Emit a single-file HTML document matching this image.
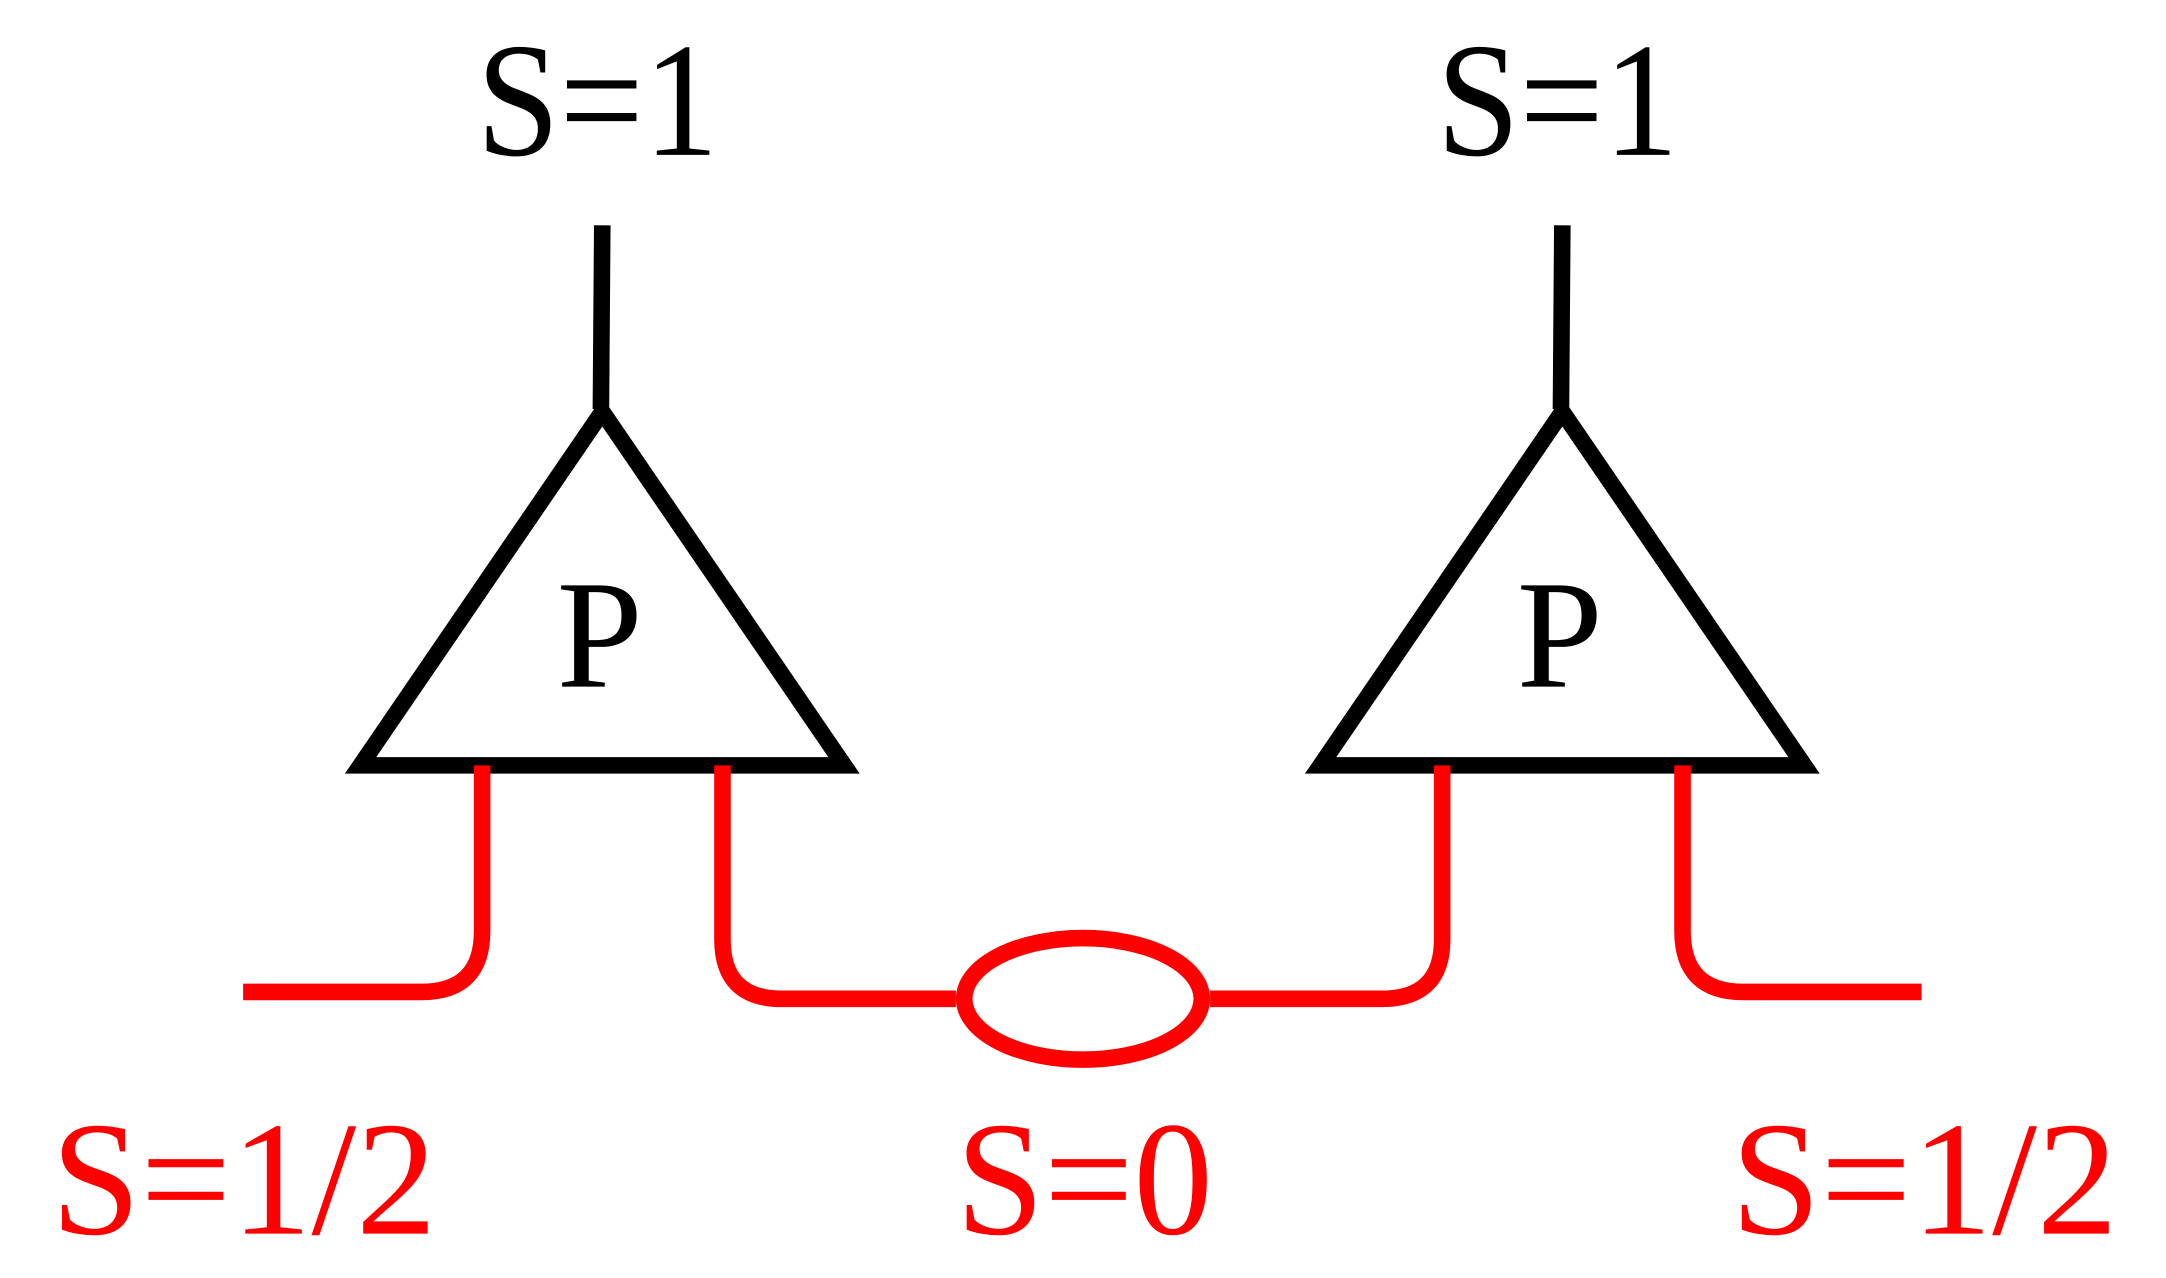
<!DOCTYPE html>
<html><head><style>html,body{margin:0;padding:0;background:#fff;}svg{display:block}</style></head>
<body>
<svg width="2166" height="1278" viewBox="0 0 1568 925" xmlns="http://www.w3.org/2000/svg">
<g fill="none" stroke="#000" stroke-width="12">
<path d="M436,163 L435,296"/>
<path d="M436,298 L261,554 L611,554 Z"/>
<path d="M1131,163 L1130,296"/>
<path d="M1131,298 L956,554 L1306,554 Z"/>
</g>
<g fill="none" stroke="#f00" stroke-width="12">
<path d="M349,554 L349,674 Q349,718 305,718 L176,718"/>
<path d="M523,554 L523,680 Q523,723 566,723 L692,723"/>
<ellipse cx="784" cy="723" rx="86" ry="44"/>
<path d="M876,723 L1000,723 Q1044,723 1044,680 L1044,554"/>
<path d="M1218,554 L1218,674 Q1218,718 1262,718 L1391,718"/>
</g>
<g font-family="Liberation Serif, serif" font-size="118">
<text x="345" y="112" textLength="175" lengthAdjust="spacingAndGlyphs">S=1</text>
<text x="1040" y="112" textLength="175" lengthAdjust="spacingAndGlyphs">S=1</text>
<text x="403" y="497" font-size="112">P</text>
<text x="1098" y="497" font-size="112">P</text>
<g fill="#f00">
<text x="37" y="893" textLength="279" lengthAdjust="spacingAndGlyphs">S=1/2</text>
<text x="692" y="893" textLength="186" lengthAdjust="spacingAndGlyphs">S=0</text>
<text x="1253" y="893" textLength="280" lengthAdjust="spacingAndGlyphs">S=1/2</text>
</g>
</g>
</svg>
</body></html>
